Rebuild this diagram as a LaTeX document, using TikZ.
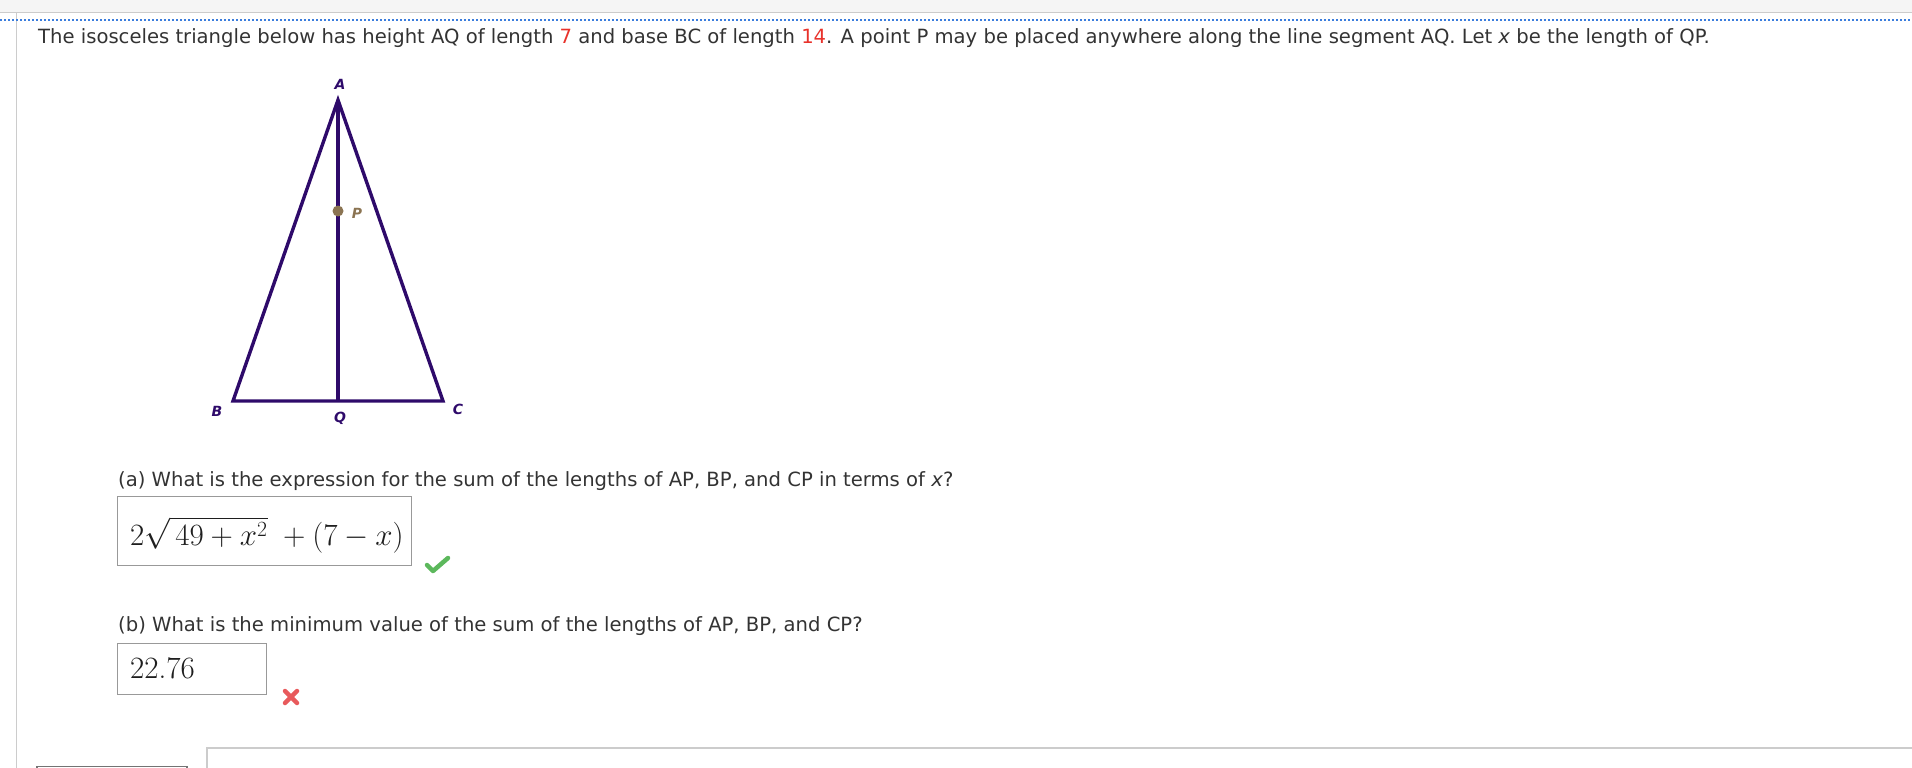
\RequirePackage{fix-cm}
\documentclass[tikz,border=0pt]{standalone}
\usepackage[no-math]{fontspec}
\setmainfont{DejaVu Sans}
\newfontfamily\answerfont{Latin Modern Roman}
\usetikzlibrary{positioning,calc}

\definecolor{textgray}{HTML}{333333}
\definecolor{mathgray}{HTML}{1E1E1E}
\definecolor{rulegray}{HTML}{CCCCCC}
\definecolor{bandgray}{HTML}{F5F5F5}
\definecolor{dotblue}{HTML}{3B7DDD}
\definecolor{numred}{HTML}{E8322B}
\definecolor{triangleline}{HTML}{2E0A6A}
\definecolor{pointbrown}{HTML}{8B7452}
\definecolor{okgreen}{HTML}{5CB85C}
\definecolor{badred}{HTML}{E85A5C}
\definecolor{boxgray}{HTML}{999999}

\tikzset{
  prompt/.style={anchor=base west, inner sep=0pt, text=textgray,
                 font=\fontsize{19.6}{23}\selectfont},
  vertexlabel/.style={inner sep=0pt, text=triangleline,
                 font=\fontsize{14}{16}\selectfont\bfseries\itshape},
  answerbox/.style={draw=boxgray, line width=1pt, anchor=north west,
                 inner sep=0pt},
  answertext/.style={anchor=base west, inner sep=0pt, text=mathgray,
                 font=\answerfont\fontsize{31}{37}\selectfont},
}

\begin{document}
\begin{tikzpicture}[x=1pt, y=-1pt]
    \useasboundingbox (0,0) rectangle (1912,768);

    % page frame: grey band, dotted blue rule, side rules
    \fill[bandgray] (0,0) rectangle (1912,12);
    \draw[rulegray, line width=1pt] (0,12.5) -- (1912,12.5);
    \draw[rulegray, line width=1pt] (16,12.5) -- (16,768);
    \draw[dotblue, line width=2pt, dash pattern=on 2pt off 2pt] (0,20) -- (1912,20);
    \draw[rulegray, line width=1.5pt] (207,768) -- (207,748) -- (1912,748);
    \draw[black!55, line width=1.5pt] (37,768) -- (37,766.5) -- (187,766.5) -- (187,768);

    % problem statement
    \node[prompt] (stmt) at (38,44)
      {The isosceles triangle below has height AQ of length \textcolor{numred}{7} and base BC of length \textcolor{numred}{14}. A point P may be placed anywhere along the line segment AQ. Let \textit{x} be the length of QP.};

    % triangle, units of pixels
    \coordinate (A) at (338,100);
    \coordinate (B) at (233,401);
    \coordinate (C) at (443,401);
    \coordinate (Q) at (338,401);
    \coordinate (P) at (338,211);
    \draw[triangleline, line width=3.4pt, line join=miter] (A) -- (B) -- (C) -- cycle;
    \draw[triangleline, line width=3.4pt] (A) -- (Q);
    \fill[pointbrown] (P) circle (5.5);

    \node[vertexlabel] (labA) at (340,84) {A};
    \node[vertexlabel] (labB) at (217,411) {B};
    \node[vertexlabel] (labQ) at (340,418) {Q};
    \node[vertexlabel] (labC) at (458,409) {C};
    \node[vertexlabel, text=pointbrown] (labP) at (357,213) {P};

    % part (a)
    \node[prompt] (qa) at (118,486)
      {(a) What is the expression for the sum of the lengths of AP, BP, and CP in terms of \textit{x}?};
    \node[answerbox, minimum width=294, minimum height=69] (boxa) at (117,496) {};
    \node[answertext] (ansa) at (130,545) {$2\sqrt{\,49+x^2}\;+(7-x)$};
    \coordinate (checkL) at (427,565);
    \coordinate (checkM) at (433,571);
    \coordinate (checkR) at (448,558);
    \draw[okgreen, line width=4.5pt, line cap=round, line join=round]
      (checkL) -- (checkM) -- (checkR);

    % part (b)
    \node[prompt] (qb) at (118,631)
      {(b) What is the minimum value of the sum of the lengths of AP, BP, and CP?};
    \node[answerbox, minimum width=149, minimum height=51] (boxb) at (117,643) {};
    \node[answertext] (ansb) at (130,678) {22.76};
    \coordinate (cross) at (291,697);
    \draw[badred, line width=4.5pt, line cap=round]
      ($(cross)+(-6,-6)$) -- ($(cross)+(6,6)$)
      ($(cross)+(-6,6)$) -- ($(cross)+(6,-6)$);
\end{tikzpicture}
\end{document}
